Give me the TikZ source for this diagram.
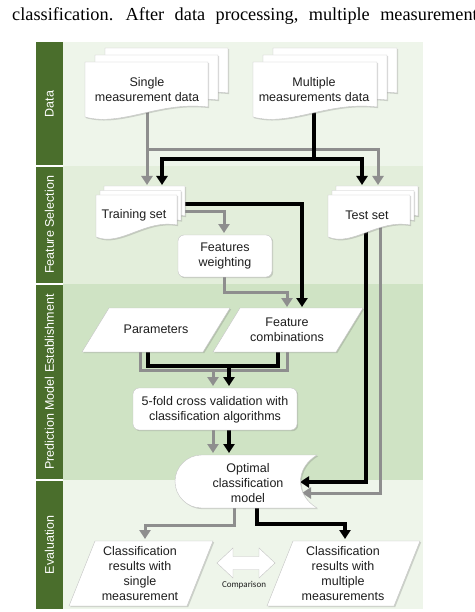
\documentclass[tikz,border=0pt]{standalone}
\usepackage{fontspec}
\setmainfont{Liberation Serif}
\setsansfont{Liberation Sans}
\newfontfamily\carlitofont{Carlito}
\usetikzlibrary{arrows.meta,shadows}
\definecolor{stripgreen}{HTML}{4A6E2C}
\definecolor{bgA}{HTML}{EEF5EA}
\definecolor{bgB}{HTML}{E3EEDB}
\definecolor{bgC}{HTML}{CFE3C4}
\definecolor{agray}{HTML}{8E8E8E}
\definecolor{edgec}{HTML}{C4C4C4}
\definecolor{ink}{HTML}{1E1E1E}
\tikzset{
  boxshape/.style={fill=white, draw=edgec, line width=0.4pt,
    drop shadow={shadow xshift=1.2pt, shadow yshift=-1.2pt, opacity=0.25, fill=black!60}},
  txt/.style={font=\sffamily\fontsize{12.5}{15}\selectfont, align=center, text=ink, inner sep=0pt},
  striplabel/.style={font=\sffamily\fontsize{12.5}{15}\selectfont, text=white, inner sep=0pt, rotate=90},
  garrow/.style={draw=agray, line width=3pt, line cap=butt, line join=miter},
  barrow/.style={draw=black, line width=3.3pt, line cap=butt, line join=miter},
  ghead/.style={garrow, -{Triangle[width=11pt,length=9pt]}},
  bhead/.style={barrow, -{Triangle[width=11pt,length=9pt]}},
  topword/.style={anchor=base west, font=\fontsize{18.3}{20}\selectfont, inner sep=0pt, text=black},
}
% x1 y1 x2 yleft yright
\newcommand\docpath[6]{\path[#1] (#2,#3) -- (#4,#3) -- (#4,#6) .. controls ({#2+0.6*(#4-#2)},{#6-6}) and ({#2+0.3*(#4-#2)},{#5+10}) .. (#2,#5) -- cycle;}
% x1 y1 x2 yleft yright dx dy
\newcommand\docstack[7]{%
  \docpath{boxshape,shift={({2*#6},{2*#7})}}{#1}{#2}{#3}{#4}{#5}
  \docpath{boxshape,shift={(#6,#7)}}{#1}{#2}{#3}{#4}{#5}
  \docpath{boxshape}{#1}{#2}{#3}{#4}{#5}}
\begin{document}
\begin{tikzpicture}[x=1pt,y=-1pt]
\useasboundingbox (0,0) rectangle (474,612);
\clip (0,0) rectangle (474,612);
\fill[white] (0,0) rectangle (474,612);

% heading text line
\node[topword] (w1) at (12,20.5) {classification.};
\node[topword] (w2) at ([xshift=12pt]w1.base east) {After};
\node[topword] (w3) at ([xshift=10pt]w2.base east) {data};
\node[topword] (w4) at ([xshift=10pt]w3.base east) {processing,};
\node[topword] (w5) at ([xshift=10pt]w4.base east) {multiple};
\node[topword] (w6) at ([xshift=10pt]w5.base east) {measurements};

% bands
\fill[bgA] (63,42) rectangle (423,166);
\fill[bgB] (63,166) rectangle (423,284);
\fill[bgC] (63,284) rectangle (423,480);
\fill[bgA] (63,480) rectangle (423,609);
\fill[stripgreen] (36,42) rectangle (63,165);
\fill[stripgreen] (36,167) rectangle (63,283);
\fill[stripgreen] (36,285) rectangle (63,479);
\fill[stripgreen] (36,481) rectangle (63,609);
\node[striplabel] (lData) at (49.5,104) {Data};
\node[striplabel] (lFS) at (49.5,225) {Feature Selection};
\node[striplabel] (lPM) at (49.5,382) {Prediction Model Establishment};
\node[striplabel] (lEv) at (49.5,545) {Evaluation};

% connector points
\coordinate (sdB) at (147,110);
\coordinate (sdT) at (147,150);
\coordinate (trA) at (147,185);
\coordinate (teA) at (378,185);
\coordinate (mdB) at (314,106);
\coordinate (mdJ) at (314,159);
\coordinate (trB) at (162,185);
\coordinate (teB) at (362,185);
\coordinate (trR1) at (178,204);
\coordinate (fcA) at (302,307);
\coordinate (trR2) at (178,212);
\coordinate (fwT) at (224,233);
\coordinate (fwB) at (224,270);
\coordinate (fwJ) at (224,292);
\coordinate (fcB) at (287,307);
\coordinate (teBk) at (366,228);
\coordinate (teBkJ) at (366,482);
\coordinate (omA) at (300,482);
\coordinate (teGr) at (380,224);
\coordinate (teGrJ) at (380,493);
\coordinate (omB) at (302,493);
\coordinate (pG) at (140,350);
\coordinate (pGJ) at (140,370);
\coordinate (fcG) at (287,350);
\coordinate (fcGJ) at (287,370);
\coordinate (pK) at (148,350);
\coordinate (pKJ) at (148,366);
\coordinate (fcK) at (278,350);
\coordinate (fcKJ) at (278,366);
\coordinate (cvG0) at (213,370);
\coordinate (cvG) at (213,386);
\coordinate (cvK0) at (229,366);
\coordinate (cvK) at (229,386);
\coordinate (cvGb) at (213,428);
\coordinate (omG) at (213,453);
\coordinate (cvKb) at (229,428);
\coordinate (omK) at (229,453);
\coordinate (omGb) at (234,506);
\coordinate (omGJ) at (234,525);
\coordinate (rsA) at (145,539);
\coordinate (omKb) at (257,506);
\coordinate (omKJ) at (257,524);
\coordinate (rmA) at (345,539);

% connectors (gray first, black on top)
\draw[ghead] (sdB) -- (trA);
\draw[ghead] (sdT) -| (teA);
\draw[barrow] (mdB) -- (mdJ);
\draw[bhead] (mdJ) -| (trB);
\draw[bhead] (mdJ) -| (teB);
\draw[ghead] (trR2) -| (fwT);
\draw[bhead] (trR1) -| (fcA);
\draw[ghead] (fwB) -- (fwJ) -| (fcB);
\draw[ghead] (teGr) -- (teGrJ) -- (omB);
\draw[bhead] (teBk) -- (teBkJ) -- (omA);
\draw[garrow] (pG) -- (pGJ) -- (fcGJ) -- (fcG);
\draw[ghead] (cvG0) -- (cvG);
\draw[barrow] (pK) -- (pKJ) -- (fcKJ) -- (fcK);
\draw[bhead] (cvK0) -- (cvK);
\draw[ghead] (cvGb) -- (omG);
\draw[bhead] (cvKb) -- (omK);
\draw[ghead] (omGb) -- (omGJ) -| (rsA);
\draw[bhead] (omKb) -- (omKJ) -| (rmA);

% documents
\docstack{85}{62}{208}{117}{107}{10}{-7}
\node[txt] (sd) at (147,89.5) {Single\\measurement data};
\docstack{253}{62}{377}{117}{107}{10}{-7}
\node[txt] (md) at (314,89.5) {Multiple\\measurements data};
\docstack{96}{195}{177}{237}{225}{4}{-4.5}
\node[txt] (tr) at (134,215) {Training set};
\docstack{328}{195}{410}{237}{225}{4}{-4.5}
\node[txt] (te) at (367,215) {Test set};

% features weighting
\path[boxshape, rounded corners=6pt] (178,235) rectangle (272,277);
\node[txt] (fw) at (225,256) {Features\\weighting};

% parallelograms
\path[boxshape] (109,308) -- (230,308) -- (203,352) -- (82,352) -- cycle;
\node[txt] (par) at (156,329) {Parameters};
\path[boxshape] (240,308) -- (363,308) -- (336,352) -- (213,352) -- cycle;
\node[txt] (fc) at (287,330) {Feature\\combinations};

% 5-fold
\path[boxshape, rounded corners=6pt] (133,388) rectangle (297,430);
\node[txt] (cv) at (215,409.5) {5-fold cross validation with\\classification algorithms};

% optimal model
\path[boxshape] (201.5,455) -- (317,455) .. controls (295,468) and (295,495) .. (317,508)
  -- (201.5,508) .. controls (187,508) and (175,496) .. (175,481.5)
  .. controls (175,467) and (187,455) .. (201.5,455) -- cycle;
\node[txt] (om) at (248,483) {Optimal\\classification\\model};

% results
\path[boxshape] (95,541) -- (213,541) -- (187,606) -- (69,606) -- cycle;
\node[txt] (rs) at (140,574) {Classification\\results with\\single\\measurement};
\path[boxshape] (293,541) -- (420,541) -- (394,606) -- (267,606) -- cycle;
\node[txt] (rm) at (343,574) {Classification\\results with\\multiple\\measurements};

% comparison arrow
\path[fill=white, draw=edgec, line width=0.4pt] (217,563) -- (233,548) -- (233,556.5) -- (259,556.5)
  -- (259,548) -- (275,563) -- (259,578) -- (259,569.5) -- (233,569.5) -- (233,578) -- cycle;
\coordinate (cmpArrow) at (246,563);
\node[font=\carlitofont\fontsize{9}{10}\selectfont, text=ink, inner sep=0pt] (cmp) at (244,585) {Comparison};
\end{tikzpicture}
\end{document}
